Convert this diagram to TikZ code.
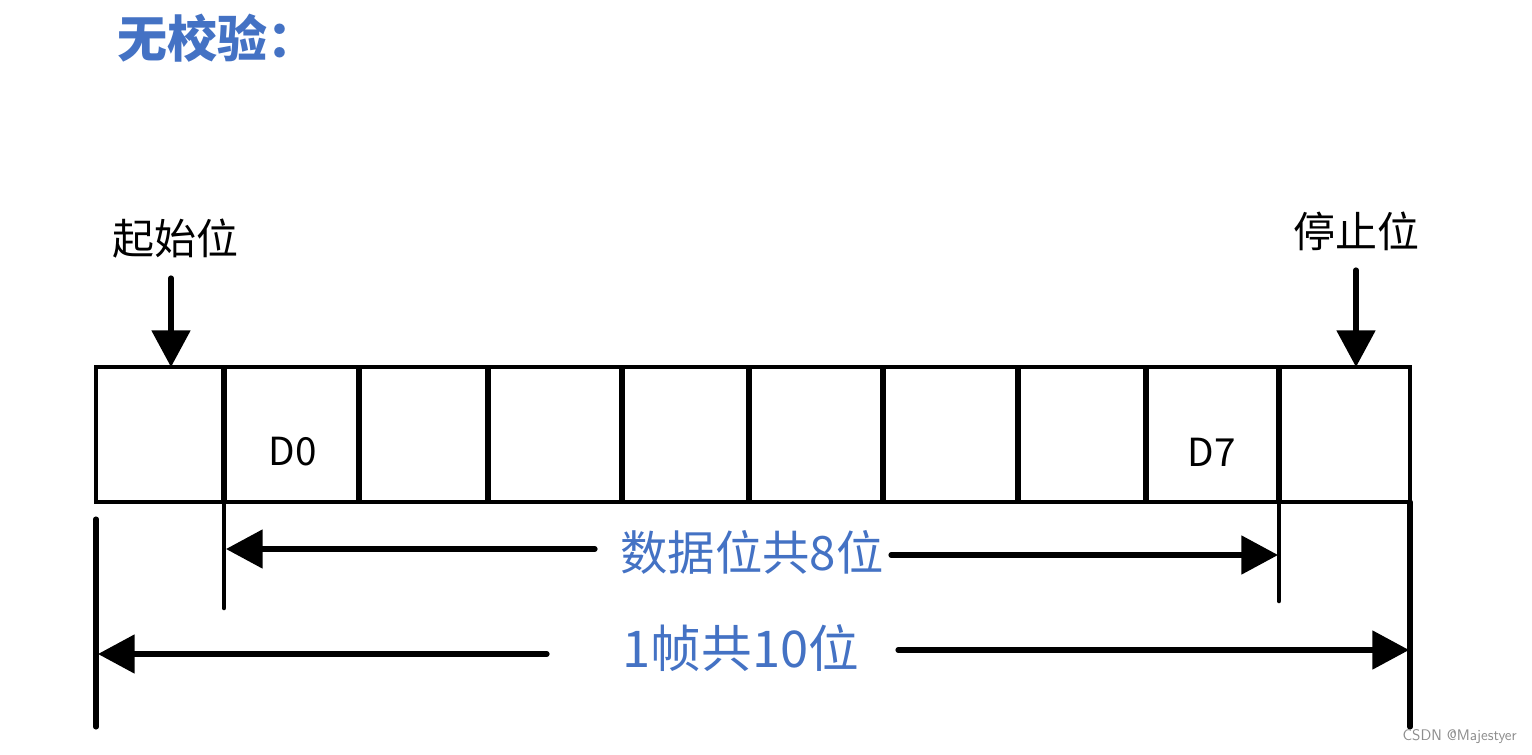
\documentclass[tikz,border=0pt]{standalone}
\usepackage{fontspec}
\setmainfont{Noto Sans CJK SC}
\usetikzlibrary{
  arrows.meta,
  positioning,
}
\definecolor{lblblue}{HTML}{4472C4}
\tikzset{
  >={Triangle[length=27.5pt,width=28.5pt]},
  bar/.style={line width=3.9pt, line cap=round},
  frame/.style={line width=2.6pt},
  lbl/.style={inner sep=0pt, font=\fontsize{31.5}{38}\selectfont},
  bluelbl/.style={inner sep=0pt, text=lblblue},
}

\begin{document}
\begin{tikzpicture}[x=0.75pt, y=-0.75pt]

        \useasboundingbox (0,0) rectangle (1532,754);

        % title
        \node [inner sep=0pt, anchor=west, text=lblblue,
               font=\fontsize{37.5}{44}\selectfont\bfseries]
              (title) at (117,38) {无校验：};

        % frame of 10 bits
        \draw [frame] (96,367) rectangle (1410,502);

        \foreach \x in {224,359,488,622,749,883,1018,1146,1279} {
          \draw [line width=4pt] (\x,367) -- (\x,502);
        }

        \node [lbl, font=\fontsize{29}{34}\selectfont] (dzero) at (293,452) {D0};
        \node [lbl, font=\fontsize{29}{34}\selectfont] (dseven) at (1212,452) {D7};

        % start / stop bit
        \node [lbl] (startlbl) at (175,239) {起始位};
        \node [lbl] (stoplbl) at (1356,231) {停止位};

        \coordinate (starttop) at (171,278);
        \coordinate (starttip) at (171,367);
        \coordinate (stoptop) at (1356,270);
        \coordinate (stoptip) at (1356,367);

        \draw [bar, ->] (starttop) -- (starttip);
        \draw [bar, ->] (stoptop) -- (stoptip);

        % extension lines
        \draw [line width=3.4pt, line cap=round] (224,502) -- (224,608);
        \draw [line width=3.4pt, line cap=round] (1279,502) -- (1279,601);
        \draw [line width=3.8pt, line cap=round] (96,519) -- (96,727);
        \draw [line width=3.8pt, line cap=round] (1410,502) -- (1410,727);

        % data bits
        \node [bluelbl, font=\fontsize{35.5}{42}\selectfont]
              (databits) at (752,552) {数据位共8位};

        \coordinate (dleft) at (595,549);
        \coordinate (dlefttip) at (226,549);
        \coordinate (dright) at (891,555);
        \coordinate (drighttip) at (1278,555);

        \draw [bar, ->] (dleft) -- (dlefttip);
        \draw [bar, ->] (dright) -- (drighttip);

        % whole frame
        \node [bluelbl, font=\fontsize{38}{44}\selectfont]
              (framebits) at (741,648) {1帧共10位};

        \coordinate (fleft) at (547,654);
        \coordinate (flefttip) at (98,654);
        \coordinate (fright) at (898,650);
        \coordinate (frighttip) at (1409,650);

        \draw [bar, ->] (fleft) -- (flefttip);
        \draw [bar, ->] (fright) -- (frighttip);

        \node [inner sep=0pt, anchor=east, text=black!45,
               font=\fontsize{11.5}{13}\selectfont\sffamily]
              (mark) at (1517,737) {CSDN @Majestyer};
      \end{tikzpicture}
\end{document}
